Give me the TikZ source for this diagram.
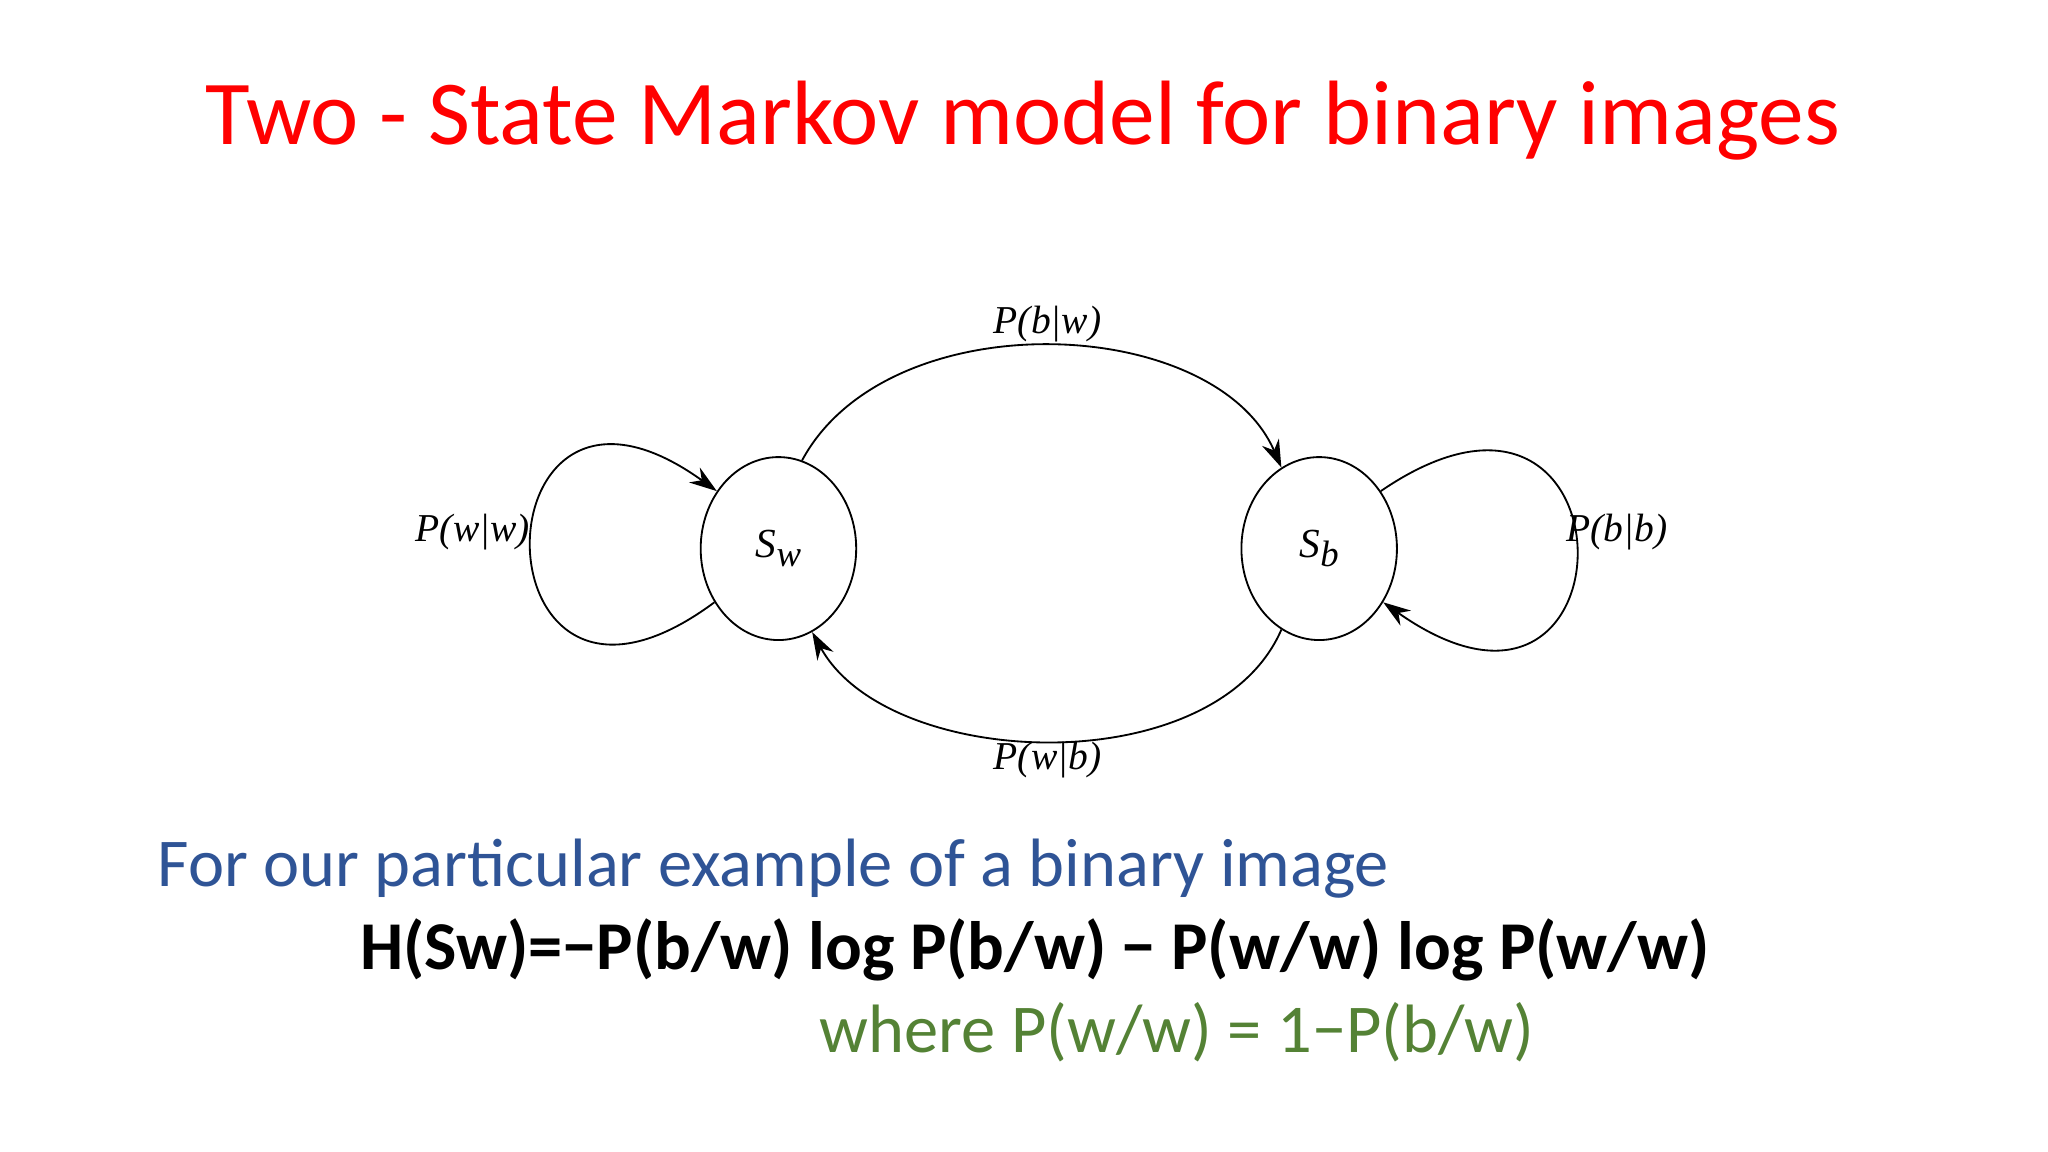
\documentclass[tikz,border=0pt]{standalone}
\usepackage{fontspec}
\setmainfont{Liberation Serif}
\newfontfamily\calfont{Carlito}
\usetikzlibrary{shapes.geometric,arrows.meta}
\begin{document}
\begin{tikzpicture}[x=0.01cm,y=-0.01cm,
  st/.style={draw,ellipse,minimum width=1.19cm,minimum height=1.4cm,inner sep=0pt,font=\fontsize{9}{11}\selectfont\itshape},
  lab/.style={font=\fontsize{8.6}{10}\selectfont\itshape},
  arr/.style={thin,-{Stealth[length=6pt,width=4pt]}}]
\useasboundingbox (0,0) rectangle (1568,882);
\node[text=red,font=\calfont\fontsize{19.9}{24}\selectfont] (title) at (783,92) {Two - State Markov model for binary images};
\node[st] (sw) at (596,420) {S\raisebox{-0.5ex}{\footnotesize w}};
\node[st] (sb) at (1010,420) {S\raisebox{-0.5ex}{\footnotesize b}};
\draw[arr] (sw.220) .. controls (360,600) and (360,240) .. (sw.137);
\draw[arr] (sb.43) .. controls (1256,240) and (1256,600) .. (sb.320);
\draw[arr] (sw.75) .. controls (680,230) and (930,240) .. (sb.115);
\draw[arr] (sb.245) .. controls (930,600) and (680,590) .. (sw.292);
\node[lab] (lww) at (362,407) {P(w|w)};
\node[lab] (lbb) at (1238,407) {P(b|b)};
\node[lab] (lbw) at (802,248) {P(b|w)};
\node[lab] (lwb) at (802,582) {P(w|b)};
\node[anchor=west,inner sep=0pt,text={rgb,255:red,47;green,84;blue,150},font=\calfont\fontsize{14.9}{18}\selectfont] (t1) at (120,665) {For our particular example of a binary image};
\node[anchor=west,inner sep=0pt,font=\calfont\bfseries\fontsize{14.9}{18}\selectfont] (t2) at (275,727) {H(Sw)=−P(b/w) log P(b/w) − P(w/w) log P(w/w)};
\node[anchor=west,inner sep=0pt,text={rgb,255:red,84;green,130;blue,53},font=\calfont\fontsize{14.9}{18}\selectfont] (t3) at (627,790) {where P(w/w) = 1−P(b/w)};
\end{tikzpicture}
\end{document}
